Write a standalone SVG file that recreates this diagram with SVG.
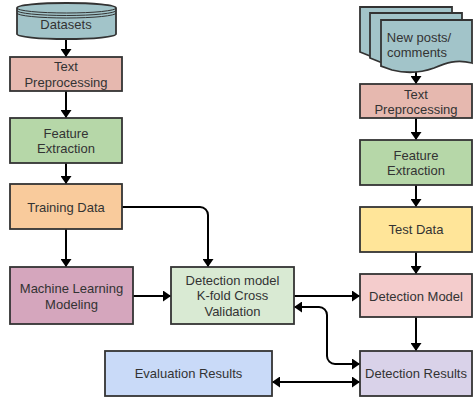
<svg xmlns="http://www.w3.org/2000/svg" width="474" height="416" viewBox="0 0 474 416">
<style>
.box{stroke:#333;stroke-width:1.8}
.t{font-family:"Liberation Sans",Arial,sans-serif;font-size:13px;fill:#333;text-anchor:middle;dominant-baseline:central}
.c{fill:none;stroke:#000;stroke-width:2}
</style>
<defs>
<marker id="ah" viewBox="0 0 8 11" refX="8" refY="5.5" markerUnits="userSpaceOnUse" markerWidth="8" markerHeight="11" orient="auto-start-reverse">
<path d="M0,0 L8,5.5 L0,11 z" fill="#000"/>
</marker>
</defs>
<rect width="474" height="416" fill="#fff"/>
<g id="connectors">
<path class="c" d="M66,39 V57" marker-end="url(#ah)"/>
<path class="c" d="M66,91 V118" marker-end="url(#ah)"/>
<path class="c" d="M66,163 V184" marker-end="url(#ah)"/>
<path class="c" d="M66,229 V267" marker-end="url(#ah)"/>
<path class="c" d="M122,207 H200 A8,8 0 0 1 208,215 V267" marker-end="url(#ah)"/>
<path class="c" d="M133,296 H171" marker-end="url(#ah)"/>
<path class="c" d="M294,296 H360" marker-end="url(#ah)"/>
<path class="c" d="M294,307 H319 A8,8 0 0 1 327,315 V356 A8,8 0 0 0 335,364 H360" marker-start="url(#ah)" marker-end="url(#ah)"/>
<path class="c" d="M272,382 H360" marker-start="url(#ah)" marker-end="url(#ah)"/>
<path class="c" d="M416,71 V84" marker-end="url(#ah)"/>
<path class="c" d="M416,118 V140" marker-end="url(#ah)"/>
<path class="c" d="M416,185 V207" marker-end="url(#ah)"/>
<path class="c" d="M416,252 V274" marker-end="url(#ah)"/>
<path class="c" d="M416,317 V351" marker-end="url(#ah)"/>
</g>
<g id="datasets">
<path class="box" fill="#a2c4c9" d="M17,8 A49.5,5 0 0 1 116,8 V34 A49.5,5 0 0 1 17,34 Z"/>
<path fill="none" stroke="#333" stroke-width="1" d="M17,8 A49.5,5 0 0 0 116,8 M17,10.5 A49.5,5 0 0 0 116,10.5 M17,13 A49.5,5 0 0 0 116,13"/>
<text class="t" x="66" y="24">Datasets</text>
</g>
<g id="text-prep-left">
<rect class="box" x="10" y="57" width="112" height="34" fill="#e6b8af"/>
<text class="t" x="66" y="66">Text</text>
<text class="t" x="66" y="82">Preprocessing</text>
</g>
<g id="feature-left">
<rect class="box" x="10" y="118" width="112" height="45" fill="#b6d7a8"/>
<text class="t" x="66" y="133">Feature</text>
<text class="t" x="66" y="148">Extraction</text>
</g>
<g id="training-data">
<rect class="box" x="10" y="184" width="112" height="45" fill="#f9cb9c"/>
<text class="t" x="66" y="207">Training Data</text>
</g>
<g id="ml-modeling">
<rect class="box" x="10" y="267" width="123" height="57" fill="#d5a6bd"/>
<text class="t" x="71.5" y="288">Machine Learning</text>
<text class="t" x="71.5" y="304">Modeling</text>
</g>
<g id="detection-kfold">
<rect class="box" x="171" y="267" width="123" height="57" fill="#d9ead3"/>
<text class="t" x="232.5" y="280">Detection model</text>
<text class="t" x="232.5" y="295">K-fold Cross</text>
<text class="t" x="232.5" y="311">Validation</text>
</g>
<g id="evaluation-results">
<rect class="box" x="105" y="351" width="167" height="45" fill="#c9daf8"/>
<text class="t" x="188.5" y="373">Evaluation Results</text>
</g>
<g id="new-posts">
<path class="box" fill="#a2c4c9" d="M360,7 H452 V50 C436,46 426,50 414,55 C400,60 385,60 370,56 L360,52 Z"/>
<path class="box" fill="#a2c4c9" d="M370,13 H462 V56 C446,52 436,56 424,61 C410,66 395,66 380,62 L370,58 Z"/>
<path class="box" fill="#a2c4c9" d="M381,20 H472 V63 C456,59 446,63 434,68 C420,73 404,73 392,70 L381,66 Z"/>
<text class="t" x="419" y="37">New posts/</text>
<text class="t" x="417" y="52">comments</text>
</g>
<g id="text-prep-right">
<rect class="box" x="360" y="84" width="112" height="34" fill="#e6b8af"/>
<text class="t" x="416" y="94">Text</text>
<text class="t" x="416" y="109">Preprocessing</text>
</g>
<g id="feature-right">
<rect class="box" x="360" y="140" width="112" height="45" fill="#b6d7a8"/>
<text class="t" x="416" y="155">Feature</text>
<text class="t" x="416" y="170">Extraction</text>
</g>
<g id="test-data">
<rect class="box" x="360" y="207" width="112" height="45" fill="#ffe599"/>
<text class="t" x="416" y="229">Test Data</text>
</g>
<g id="detection-model">
<rect class="box" x="360" y="274" width="112" height="43" fill="#f4cccc"/>
<text class="t" x="416" y="296">Detection Model</text>
</g>
<g id="detection-results">
<rect class="box" x="360" y="351" width="112" height="45" fill="#d9d2e9"/>
<text class="t" x="416" y="373">Detection Results</text>
</g>
</svg>
